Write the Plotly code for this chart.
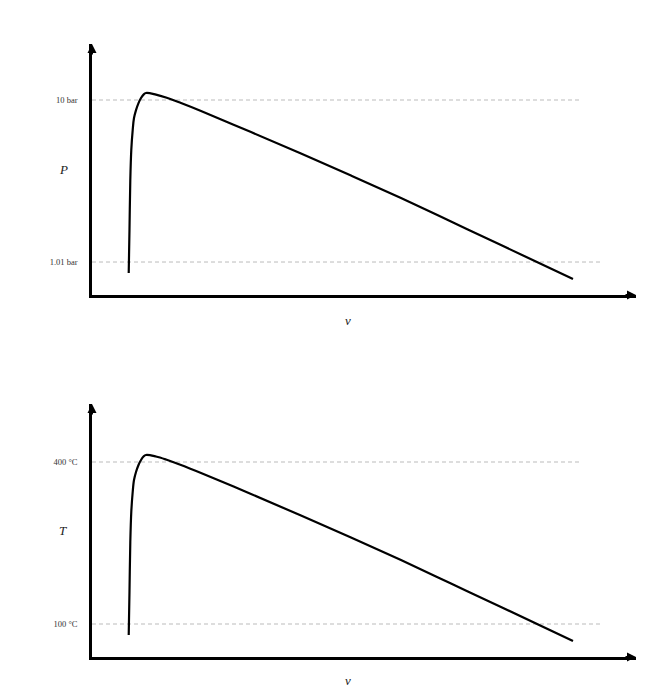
import plotly.graph_objects as go
from plotly.subplots import make_subplots

# Curva do processo (esboço) - volume específico v
v = [0.675, 0.689, 0.704, 0.722, 0.748, 0.772, 0.809, 0.855, 0.901, 0.947, 0.993,
     1.176, 1.360, 1.636, 2.004, 2.923, 3.842, 4.761, 5.680, 6.599, 7.518, 8.842]
P = [0.40, 2.79, 5.56, 7.22, 8.33, 9.00, 9.44, 9.83, 10.11, 10.30, 10.39,
     10.30, 10.14, 9.83, 9.39, 8.22, 7.03, 5.81, 4.56, 3.26, 1.95, 0.07]
T = [79.6, 159.3, 251.9, 307.4, 344.5, 366.7, 381.5, 394.5, 403.7, 410.2, 413.0,
     410.2, 404.7, 394.5, 379.7, 340.8, 300.9, 260.2, 218.5, 175.0, 131.5, 68.5]

# Linhas de referência
P_niveis = [10, 1.01]
P_rotulos = ["10 bar", "1.01 bar"]
T_niveis = [400, 100]
T_rotulos = ["400 °C", "100 °C"]
v_fim_ref = [8.99, 9.36]

serif = "Liberation Serif"

fig = make_subplots(rows=2, cols=1, vertical_spacing=0.178)

# Linhas tracejadas de referência
for nivel, vfim in zip(P_niveis, v_fim_ref):
    fig.add_trace(go.Scatter(x=[0, vfim], y=[nivel, nivel], mode="lines",
                             line=dict(color="#bbbbbb", width=1, dash="4px,3px"),
                             hoverinfo="skip"), row=1, col=1)
for nivel, vfim in zip(T_niveis, v_fim_ref):
    fig.add_trace(go.Scatter(x=[0, vfim], y=[nivel, nivel], mode="lines",
                             line=dict(color="#bbbbbb", width=1, dash="4px,3px"),
                             hoverinfo="skip"), row=2, col=1)

# Curvas
fig.add_trace(go.Scatter(x=v, y=P, mode="lines",
                         line=dict(color="black", width=2.2, shape="spline", smoothing=1.0)),
              row=1, col=1)
fig.add_trace(go.Scatter(x=v, y=T, mode="lines",
                         line=dict(color="black", width=2.2, shape="spline", smoothing=1.0)),
              row=2, col=1)

eixo_x = dict(range=[0, 10], showgrid=False, zeroline=False, showticklabels=False,
              showline=True, linecolor="black", linewidth=2.5)
fig.update_xaxes(**eixo_x)
eixo_y = dict(showgrid=False, zeroline=False, showline=True, linecolor="black",
              linewidth=2.5, ticks="", ticklabelstandoff=10,
              tickfont=dict(family=serif, size=8.5, color="#333"))
fig.update_yaxes(range=[-0.821, 13.107], tickvals=P_niveis, ticktext=P_rotulos,
                 row=1, col=1, **eixo_y)
fig.update_yaxes(range=[38.9, 507.4], tickvals=T_niveis, ticktext=T_rotulos,
                 row=2, col=1, **eixo_y)

# Setas dos eixos
for xr, yr in [("x", "y"), ("x2", "y2")]:
    fig.add_annotation(x=1, y=0, xref=xr + " domain", yref=yr + " domain",
                       ax=-12, ay=0, showarrow=True, arrowhead=2, arrowsize=0.9,
                       arrowwidth=2, arrowcolor="black", text="")
    fig.add_annotation(x=0, y=1, xref=xr + " domain", yref=yr + " domain",
                       ax=0, ay=12, showarrow=True, arrowhead=2, arrowsize=0.9,
                       arrowwidth=2, arrowcolor="black", text="")

# Rótulos dos eixos
fonte_rot = dict(family=serif, size=13, color="#222")
for txt, yp in [("<i>P</i>", 169), ("<i>T</i>", 530)]:
    fig.add_annotation(x=62, y=yp, xref="paper", yref="paper", text=txt,
                       showarrow=False, font=fonte_rot,
                       xanchor="center", yanchor="middle")
for yp in [320, 680]:
    fig.add_annotation(x=347, y=yp, xref="paper", yref="paper", text="<i>v</i>",
                       showarrow=False, font=fonte_rot,
                       xanchor="center", yanchor="middle")

# converter rótulos (pixels da página) para coordenadas de papel
for a in fig.layout.annotations:
    if a.xref == "paper":
        a.x = (a.x - 91) / 544
        a.y = (657 - a.y) / 613

fig.update_layout(
    width=668, height=700,
    margin=dict(l=84, r=40, t=36, b=51),
    showlegend=False,
    plot_bgcolor="white",
    paper_bgcolor="white",
)
fig.update_yaxes(domain=[0.5905, 1.0], row=1, col=1)
fig.update_yaxes(domain=[0.0, 0.4127], row=2, col=1)

fig.write_html("out.html")
